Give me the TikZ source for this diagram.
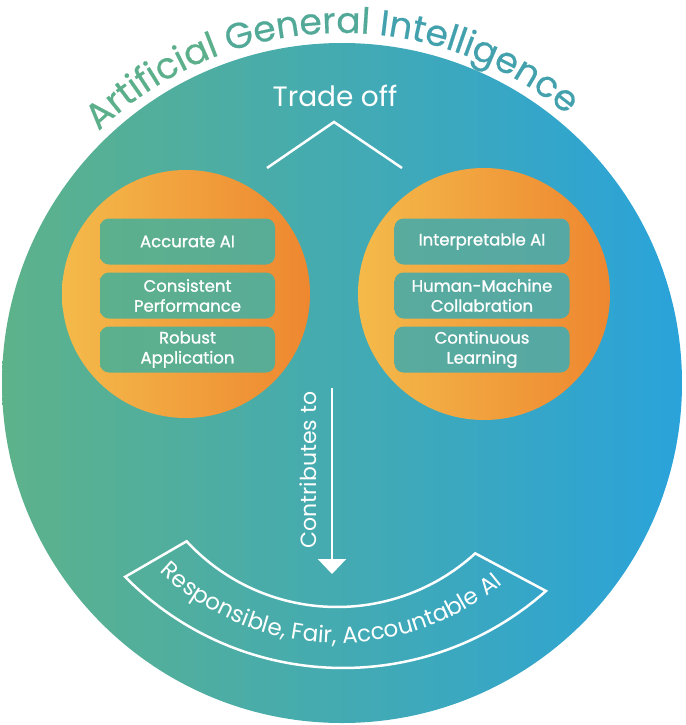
\documentclass[tikz,border=0pt]{standalone}
\usepackage{fontspec}
\setmainfont{Poppins}
\newfontfamily\boxfont{Poppins}[FakeBold=1.2]
\newfontfamily\titlefont{Poppins}[FakeBold=0.5]
\usetikzlibrary{decorations.text,arrows.meta,calc}
\definecolor{gA}{HTML}{5DB28A}
\definecolor{gB}{HTML}{4CA5A6}
\definecolor{gC}{HTML}{2AA3DA}
\definecolor{oA}{HTML}{F4BA4A}
\definecolor{oB}{HTML}{EE8730}
\definecolor{bxA}{HTML}{5DB08C}
\definecolor{bxB}{HTML}{59AC96}
\definecolor{bxC}{HTML}{58AB9D}
\definecolor{bxD}{HTML}{56A8A4}
\definecolor{tA}{HTML}{5CAF8B}
\definecolor{tB}{HTML}{52A997}
\definecolor{tC}{HTML}{43A1AE}
\begin{document}
\begin{tikzpicture}[x=1pt,y=-1pt,
  box/.style={rounded corners=9pt, minimum width=175pt, minimum height=46pt, inner sep=0pt,
    text=white, font=\boxfont\fontsize{16.5}{20}\selectfont, align=center},
  lbox/.style={box, left color=bxA, right color=bxB},
  rbox/.style={box, left color=bxC, right color=bxD},
  wline/.style={draw=white, line width=2.5pt}]
\useasboundingbox (0,0) rectangle (685,725);
% main circle
\node[circle, minimum size=680pt, inner sep=0pt, left color=gA, middle color=gB, right color=gC] (agi) at (342,383) {};
% orange circles
\node[circle, minimum size=248pt, inner sep=0pt, left color=oA, right color=oB] (lc) at (186,294) {};
\node[circle, minimum size=252pt, inner sep=0pt, left color=oA, right color=oB] (rc) at (484,294) {};
% boxes
\node[lbox] (b1) at (187.5,241.5) {Accurate AI};
\node[lbox] (b2) at (187.5,295.5) {Consistent\\Performance};
\node[lbox] (b3) at (187.5,349.5) {Robust\\Application};
\node[rbox] (b4) at (482,241.5) {Interpretable AI};
\node[rbox] (b5) at (482,295.5) {Human-Machine\\Collabration};
\node[rbox] (b6) at (482,349.5) {Continuous\\Learning};
% title
\coordinate (tc) at (342,383);
\path[decorate, decoration={text along path, text align=center,
  text={|\titlefont\fontsize{36}{36}\selectfont\color{tA}|Artificial |+\color{tB}|General |+\color{tC}|Intelligence}}]
  (tc) ++(198:350) arc[start angle=198, end angle=338, radius=350];
% trade off
\node[text=white, font=\fontsize{28}{28}\selectfont, anchor=base] (trade) at (335,106) {Trade off};
\coordinate (cl) at (267,168);
\coordinate (ct) at (334,122);
\coordinate (cr) at (402,168);
\draw[wline] (cl) -- (ct) -- (cr);
% arrow
\coordinate (as) at (332,388);
\coordinate (ae) at (332,574);
\draw[white, line width=2.5pt, -{Triangle[width=28pt,length=15pt]}] (as) -- (ae);
\node[rotate=90, text=white, font=\fontsize{22}{22}\selectfont] (contrib) at (308.5,470) {Contributes to};
% band
\coordinate (ic) at (337,402);
\coordinate (oc) at (343,362);
\draw[wline, line join=miter] (ic) ++(137.2:205) arc[start angle=137.2, end angle=47.6, radius=205]
  -- ($(oc)+(48.45:306)$) arc[start angle=48.45, end angle=135.4, radius=306] -- cycle;
\coordinate (bc) at (338,384);
\path[decorate, decoration={text along path, text align=center,
  text={|\color{white}\fontsize{23}{23}\selectfont|Responsible, Fair, Accountable AI}}]
  (bc) ++(155:259) arc[start angle=155, end angle=29, radius=259];
\end{tikzpicture}
\end{document}
